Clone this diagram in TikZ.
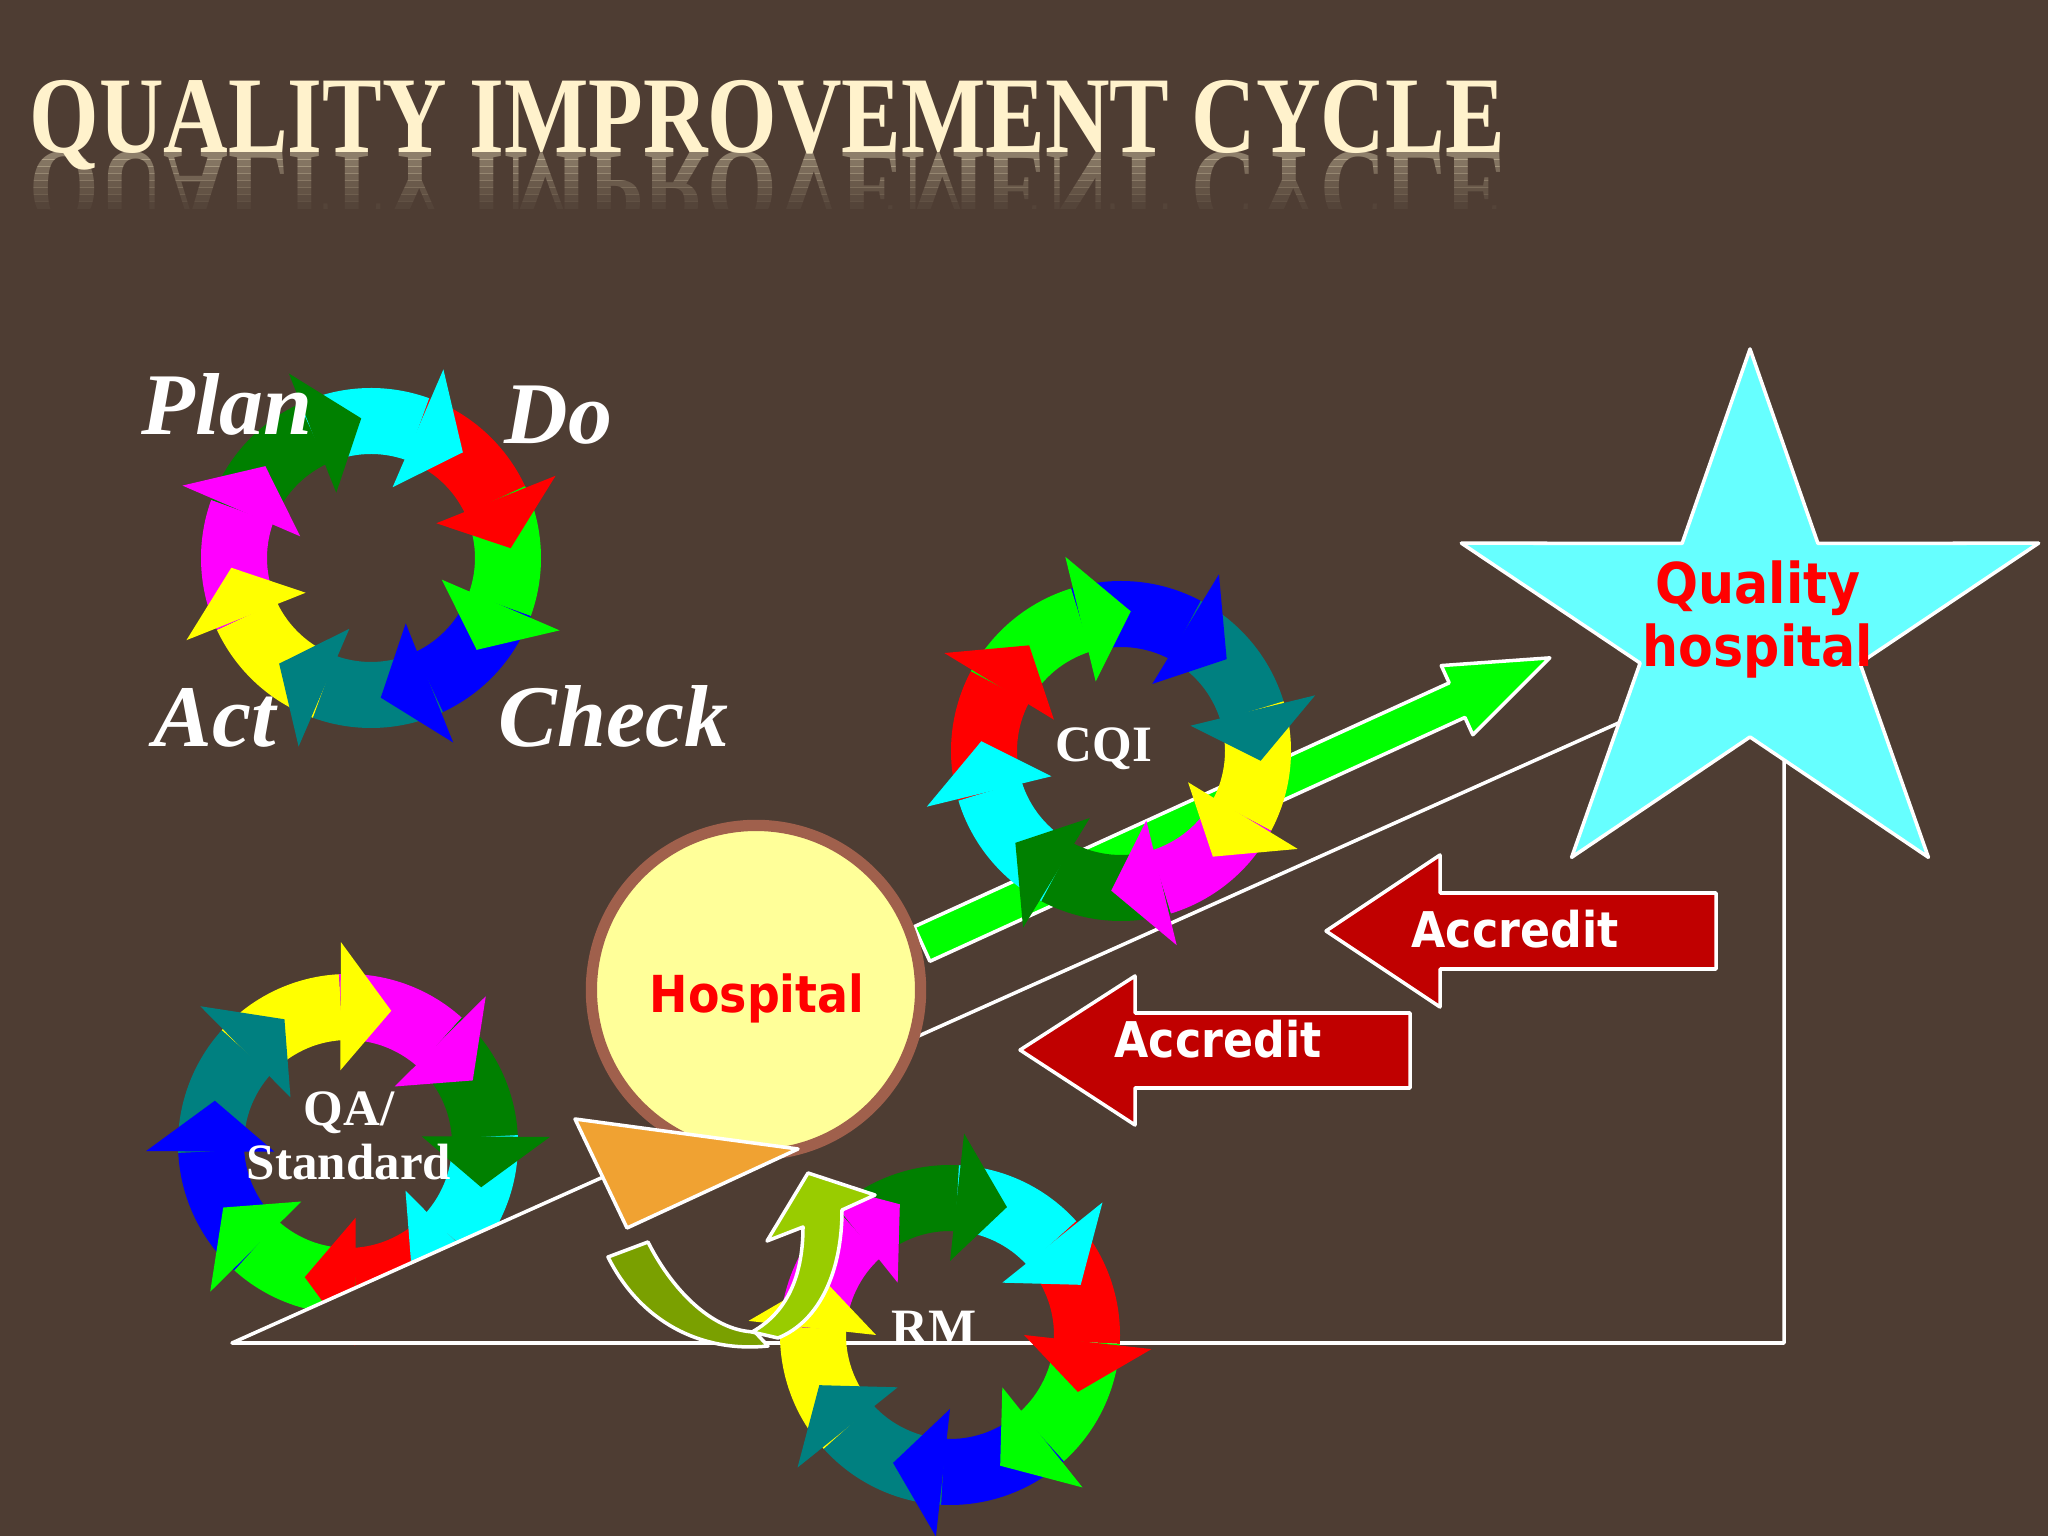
\documentclass[tikz,border=0pt]{standalone}
\usepackage{fontspec}
\setmainfont{Liberation Serif}
\newfontfamily\tahoma[FakeStretch=0.9]{DejaVu Sans}
\usetikzlibrary{calc,positioning}
\selectcolormodel{rgb}
\definecolor{bgbrown}{RGB}{78,61,51}
\definecolor{titlecream}{RGB}{255,242,204}
\definecolor{dkgreen}{RGB}{0,128,0}
\definecolor{hospyellow}{RGB}{255,255,153}
\definecolor{hospbrown}{RGB}{160,96,76}
\definecolor{starcyan}{RGB}{102,255,255}
\definecolor{accred}{RGB}{192,0,0}
\definecolor{wedgegold}{RGB}{240,162,50}
\definecolor{oliveleft}{RGB}{122,160,0}
\definecolor{oliveright}{RGB}{153,204,0}
\definecolor{bigarrow}{RGB}{0,255,0}

\newcommand{\cyclering}[2]{%
\begin{scope}[shift={#1}]
\foreach \c/\b in {#2}{\fill[\c] (\b:170) arc[start angle=\b, delta angle=45, radius=170] -- ({\b+45}:104) arc[start angle={\b+45}, delta angle=-45, radius=104] -- cycle;}
\foreach \c/\b in {#2}{\fill[\c] ({\b-1}:202) -- ({\b-21}:140) -- ({\b+3}:74) -- cycle;}
\end{scope}}

\begin{document}
\begin{tikzpicture}[x=0.01cm,y=0.01cm,line join=round,
  pdcatext/.style={text=white,inner sep=0,font=\fontsize{25}{25}\selectfont\bfseries\itshape},
  ringlabel/.style={text=white,inner sep=0,align=center,font=\fontsize{14.5}{15.4}\selectfont\bfseries},
  whiteedge/.style={draw=white,line width=1pt},
  accredit/.style={fill=accred,whiteedge}]
\fill[bgbrown] (0,0) rectangle (2048,1536);
\useasboundingbox (0,0) rectangle (2048,1536);

\node[anchor=base west,inner sep=0,text=titlecream,font=\fontsize{31}{31}\selectfont\bfseries] (title) at (29,1383) {\scalebox{0.82}[1]{QUALITY IMPROVEMENT CYCLE}};
\foreach \k/\o in {0/0.36,1/0.31,2/0.26,3/0.21,4/0.16,5/0.12,6/0.08,7/0.04}{
\begin{scope}
\clip (0,{1383-7*\k}) rectangle (2048,{1376-7*\k});
\node[anchor=base west,inner sep=0,text=titlecream,text opacity=\o,font=\fontsize{31}{31}\selectfont\bfseries] at (29,1383) {\scalebox{0.82}[-1]{QUALITY IMPROVEMENT CYCLE}};
\end{scope}}

\cyclering{(371,978)}{red/25,green/-20,blue/-65,teal/-110,yellow/-155,magenta/160,dkgreen/115,cyan/70}
\node[pdcatext,anchor=base west] (plan) at (141,1101) {Plan};
\node[pdcatext,anchor=base west] (do) at (504,1092) {Do};
\node[pdcatext,anchor=base west] (act) at (153,789) {Act};
\node[pdcatext,anchor=base west] (check) at (498,789) {Check};

\cyclering{(348,392)}{yellow/93,magenta/48,dkgreen/3,cyan/-42,red/-87,green/-132,blue/-177,teal/138}

\filldraw[fill=bgbrown,whiteedge] (232,193) coordinate (rampA) -- (1784,193) coordinate (rampB) -- (1784,887) coordinate (rampC) -- cycle;

\begin{scope}[shift={(922,592)},rotate=24.5]
\filldraw[fill=bigarrow,whiteedge] (0,-19) -- (588,-19) -- (588,-38) -- (690,0) -- (588,38) -- (588,19) -- (0,19) -- cycle;
\end{scope}

\cyclering{(1121,785)}{red/152,green/107,blue/62,teal/17,yellow/-28,magenta/-73,dkgreen/-118,cyan/-163}

\node[circle,draw=hospbrown,line width=3.2pt,fill=hospyellow,minimum size=3.29cm,inner sep=0] (hosp) at (756,546) {};
\node[text=red,inner sep=0,anchor=base,font=\tahoma\bfseries\fontsize{14.5}{16}\selectfont] (hosptext) at (757,523) {Hospital};

\filldraw[fill=wedgegold,whiteedge] (575,417) -- (798,387) -- (627,308) -- cycle;

\begin{scope}[shift={(1750,906)},xscale=1.08]
\filldraw[fill=starcyan,whiteedge] (90:281) \foreach \a/\rr in {126/107,162/281,198/107,234/281,270/107,306/281,342/107,18/281,54/107}{ -- (\a:\rr)} -- cycle;
\end{scope}
\node[text=red,inner sep=0,align=center,anchor=north,font=\tahoma\bfseries\fontsize{16}{17.9}\selectfont] (goal) at (1758,976) {Quality\\hospital};

\filldraw[accredit] (1326,605) -- (1440,681) -- (1440,643) -- (1716,643) -- (1716,567) -- (1440,567) -- (1440,529) -- cycle;
\filldraw[accredit] (1020,486) -- (1135,560) -- (1135,523) -- (1410,523) -- (1410,448) -- (1135,448) -- (1135,411) -- cycle;
\node[text=white,inner sep=0,anchor=base,font=\tahoma\bfseries\fontsize{14}{16}\selectfont] (acc1) at (1515,588) {Accredit};
\node[text=white,inner sep=0,anchor=base,font=\tahoma\bfseries\fontsize{14}{16}\selectfont] (acc2) at (1218,478) {Accredit};

\cyclering{(950,201)}{dkgreen/87,cyan/42,red/-3,green/-48,blue/-93,teal/-138,yellow/177,magenta/132}

\filldraw[fill=oliveleft,whiteedge] (608,279) .. controls (640,215) and (700,183) .. (768,190) -- (755,204) .. controls (710,205) and (670,250) .. (648,294) -- cycle;
\filldraw[fill=oliveright,whiteedge] (752,204) -- (778,198) .. controls (820,215) and (842,265) .. (842,326) -- (875,341) -- (808,363) -- (767,295) -- (803,309) .. controls (803,265) and (790,225) .. (752,204) -- cycle;

\node[ringlabel,anchor=base] (cqi) at (1104,774) {CQI};
\node[ringlabel,anchor=north] (qa) at (349,445) {QA/\\Standard};
\node[ringlabel,anchor=base] (rm) at (934,191) {RM};
\end{tikzpicture}
\end{document}
